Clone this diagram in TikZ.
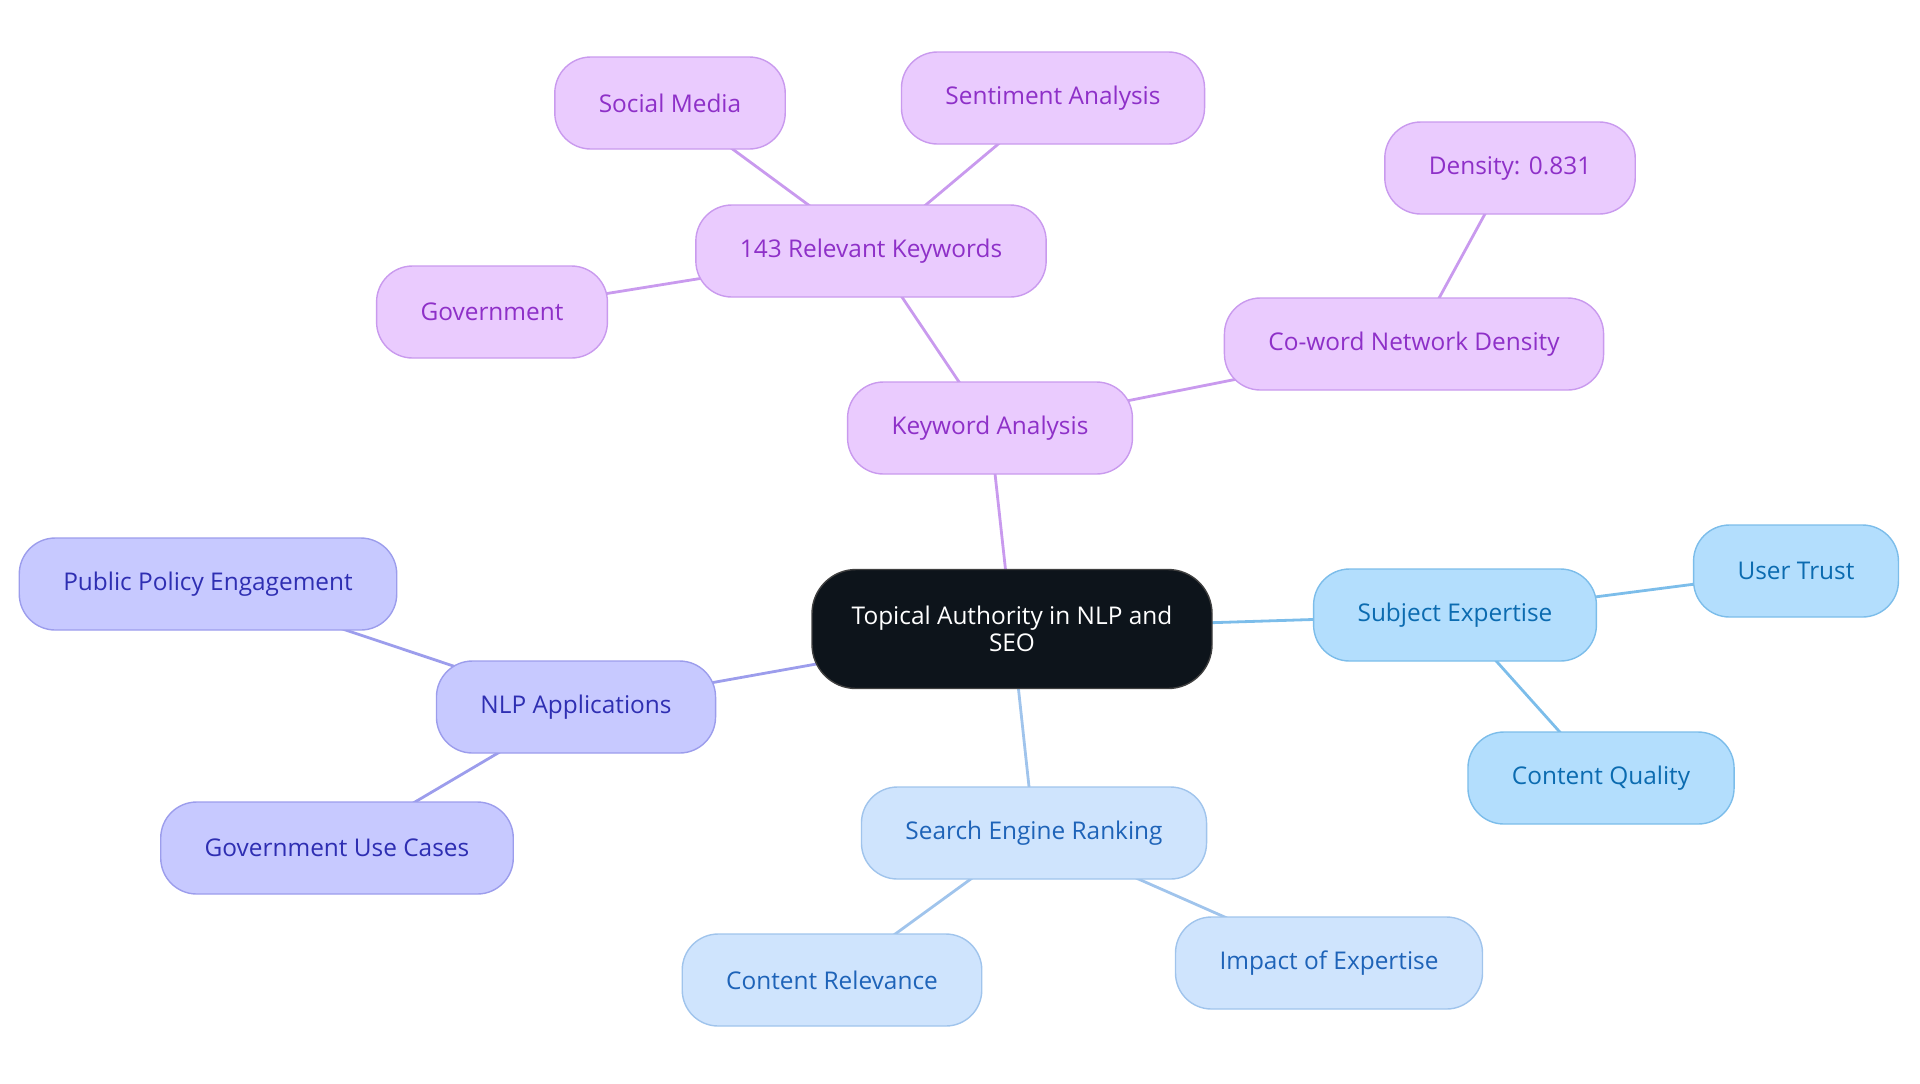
\documentclass[tikz,border=0pt]{standalone}
\usepackage{fontspec}
\setmainfont{Open Sans}
\usetikzlibrary{backgrounds}
\definecolor{kwfill}{HTML}{EACBFE}
\definecolor{kwline}{HTML}{C99AEE}
\definecolor{kwtext}{HTML}{8E30C8}
\definecolor{nlpfill}{HTML}{C7C9FF}
\definecolor{nlpline}{HTML}{9C9DEC}
\definecolor{nlptext}{HTML}{2E2EB2}
\definecolor{sefill}{HTML}{B3DEFD}
\definecolor{seline}{HTML}{7CBDEA}
\definecolor{setext}{HTML}{0B6BB0}
\definecolor{srfill}{HTML}{CFE4FD}
\definecolor{srline}{HTML}{A0C4EC}
\definecolor{srtext}{HTML}{1E63B8}
\definecolor{rootfill}{HTML}{0D141B}
\tikzset{
  topic/.style={rounded corners=18pt,minimum height=46pt,inner xsep=22pt,line width=0.7pt,font=\fontsize{12.2}{13}\selectfont},
  kwnode/.style={topic,fill=kwfill,draw=kwline,text=kwtext},
  nlpnode/.style={topic,fill=nlpfill,draw=nlpline,text=nlptext},
  senode/.style={topic,fill=sefill,draw=seline,text=setext},
  srnode/.style={topic,fill=srfill,draw=srline,text=srtext},
  kwlink/.style={kwline,line width=1.4pt},
  nlplink/.style={nlpline,line width=1.4pt},
  selink/.style={seline,line width=1.4pt},
  srlink/.style={srline,line width=1.4pt}
}
\begin{document}
\begin{tikzpicture}[x=0.5pt,y=-0.5pt]
	\useasboundingbox (0,0) rectangle (1920,1083);
	% root
	\node[rounded corners=22pt,fill=rootfill,draw=black!75,line width=0.7pt,text=white,
		minimum width=200pt,minimum height=59.5pt,align=center,
		font=\fontsize{12.2}{13.5}\selectfont] (root) at (1012,629) {Topical Authority in NLP and\\SEO};
	% keyword branch
	\node[kwnode] (ka) at (990,428) {Keyword Analysis};
	\node[kwnode] (rk) at (871,251) {143 Relevant Keywords};
	\node[kwnode] (sm) at (670,103) {Social Media};
	\node[kwnode] (sa) at (1053,98) {Sentiment Analysis};
	\node[kwnode] (gov) at (492,312) {Government};
	\node[kwnode] (cw) at (1414,344) {Co-word Network Density};
	\node[kwnode] (den) at (1510,168) {Density: 0.831};
	% expertise branch
	\node[senode] (se) at (1455,615) {Subject Expertise};
	\node[senode] (ut) at (1796,571) {User Trust};
	\node[senode] (cq) at (1601,778) {Content Quality};
	% ranking branch
	\node[srnode] (ser) at (1034,833) {Search Engine Ranking};
	\node[srnode] (cr) at (832,980) {Content Relevance};
	\node[srnode] (ie) at (1329,963) {Impact of Expertise};
	% nlp branch
	\node[nlpnode] (nlp) at (576,707) {NLP Applications};
	\node[nlpnode] (ppe) at (208,584) {Public Policy Engagement};
	\node[nlpnode] (guc) at (337,848) {Government Use Cases};
	\begin{scope}[on background layer]
		\draw[kwlink] (root.center) -- (ka.center);
		\draw[kwlink] (ka.center) -- (rk.center);
		\draw[kwlink] (rk.center) -- (sm.center);
		\draw[kwlink] (rk.center) -- (sa.center);
		\draw[kwlink] (rk.center) -- (gov.center);
		\draw[kwlink] (ka.center) -- (cw.center);
		\draw[kwlink] (cw.center) -- (den.center);
		\draw[selink] (root.center) -- (se.center);
		\draw[selink] (se.center) -- (ut.center);
		\draw[selink] (se.center) -- (cq.center);
		\draw[srlink] (root.center) -- (ser.center);
		\draw[srlink] (ser.center) -- (cr.center);
		\draw[srlink] (ser.center) -- (ie.center);
		\draw[nlplink] (root.center) -- (nlp.center);
		\draw[nlplink] (nlp.center) -- (ppe.center);
		\draw[nlplink] (nlp.center) -- (guc.center);
	\end{scope}
\end{tikzpicture}
\end{document}
